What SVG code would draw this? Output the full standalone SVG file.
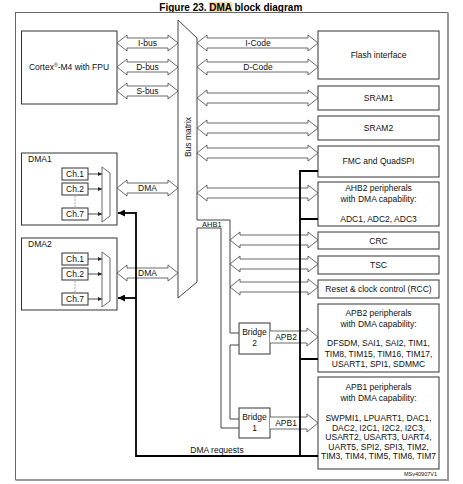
<svg xmlns="http://www.w3.org/2000/svg" width="463" height="484" viewBox="0 0 463 484">
<style>
.box{fill:#fff;stroke:#333;stroke-width:1}
.arr{fill:#fff;stroke:#444;stroke-width:0.8}
.t{font-family:"Liberation Sans",Arial,sans-serif;font-size:8.5px;fill:#111}
.c{text-anchor:middle}
.req{stroke:#000;stroke-width:1.8;fill:none}
.bus{stroke:#444;stroke-width:1;fill:none}
.thin{stroke:#222;stroke-width:0.8;fill:none}
</style>
<defs>
<marker id="big" markerWidth="7" markerHeight="7" refX="7" refY="3.5" orient="auto" markerUnits="userSpaceOnUse"><path d="M0,0 L7,3.5 L0,7 Z" fill="#000"/></marker>
<marker id="sm" markerWidth="4" markerHeight="4" refX="4" refY="2" orient="auto" markerUnits="userSpaceOnUse"><path d="M0,0 L4,2 L0,4 Z" fill="#222"/></marker>
</defs>
<rect width="463" height="484" fill="#fff"/>
<g id="title">
<rect x="209" y="2" width="23.5" height="10.5" fill="#fcd9a6"/>
<text x="159.3" y="10.5" style="font-family:'Liberation Sans',Arial,sans-serif;font-size:10px;font-weight:bold;fill:#000">Figure 23. DMA block diagram</text>
</g>
<g id="frame">
<rect x="15.5" y="12.5" width="432" height="467" fill="none" stroke="#666" stroke-width="1"/>
<path d="M448,12.5 L448,480 L15.5,480" fill="none" stroke="#999" stroke-width="2"/>
</g>
<g id="cortex"><rect class="box" x="21.5" y="31" width="95.5" height="73"/>
<text class="t c" x="69" y="70">Cortex<tspan font-size="5" dy="-3">®</tspan><tspan dy="3">-M4 with FPU</tspan></text></g>
<g id="busmatrix">
<path d="M197,220 L197,38 L178,20 L178,298 L197,282 L197,228" fill="#fff" stroke="#444" stroke-width="1"/>
<text class="t c" transform="translate(191,137) rotate(-90)">Bus matrix</text>
</g>
<g id="flash"><rect class="box" x="318" y="31" width="121" height="48"/><text class="t c" x="378.5" y="58">Flash interface</text></g>
<g id="sram1"><rect class="box" x="318" y="86" width="121" height="24"/><text class="t c" x="378.5" y="101">SRAM1</text></g>
<g id="sram2"><rect class="box" x="318" y="116" width="121" height="24"/><text class="t c" x="378.5" y="131">SRAM2</text></g>
<g id="fmc"><rect class="box" x="318" y="146" width="121" height="31"/><text class="t c" x="378.5" y="164">FMC and QuadSPI</text></g>
<g id="ahb2"><rect class="box" x="318" y="182" width="121" height="44"/>
<text class="t c" x="378.5" y="191">AHB2 peripherals</text>
<text class="t c" x="378.5" y="202">with DMA capability:</text>
<text class="t c" x="378.5" y="222">ADC1, ADC2, ADC3</text></g>
<g id="crc"><rect class="box" x="318" y="232" width="121" height="17"/><text class="t c" x="378.5" y="243.5">CRC</text></g>
<g id="tsc"><rect class="box" x="318" y="256" width="121" height="18"/><text class="t c" x="378.5" y="268">TSC</text></g>
<g id="rcc"><rect class="box" x="318" y="280" width="121" height="18"/><text class="t c" x="378.5" y="292">Reset &amp; clock control (RCC)</text></g>
<g id="apb2p"><rect class="box" x="318" y="304" width="121" height="68"/>
<text class="t c" x="378.5" y="316">APB2 peripherals</text>
<text class="t c" x="378.5" y="326.5">with DMA capability:</text>
<text class="t c" x="378.5" y="346">DFSDM, SAI1, SAI2, TIM1,</text>
<text class="t c" x="378.5" y="356.5">TIM8, TIM15, TIM16, TIM17,</text>
<text class="t c" x="378.5" y="367">USART1, SPI1, SDMMC</text></g>
<g id="apb1p"><rect class="box" x="318" y="377" width="121" height="92"/>
<text class="t c" x="378.5" y="390">APB1 peripherals</text>
<text class="t c" x="378.5" y="401">with DMA capability:</text>
<text class="t c" x="378.5" y="421">SWPMI1, LPUART1, DAC1,</text>
<text class="t c" x="378.5" y="430.5">DAC2, I2C1, I2C2, I2C3,</text>
<text class="t c" x="378.5" y="440">USART2, USART3, UART4,</text>
<text class="t c" x="378.5" y="449.5">UART5, SPI2, SPI3, TIM2,</text>
<text class="t c" x="378.5" y="459">TIM3, TIM4, TIM5, TIM6, TIM7</text></g>
<g id="dma1"><rect class="box" x="21.5" y="153" width="95.5" height="72"/>
<text class="t" x="28" y="162">DMA1</text>
<rect class="box" x="62" y="168" width="26" height="12"/><text class="t c" x="75" y="177">Ch.1</text>
<rect class="box" x="62" y="183" width="26" height="12"/><text class="t c" x="75" y="192">Ch.2</text>
<rect class="box" x="62" y="208" width="26" height="12"/><text class="t c" x="75" y="217">Ch.7</text>
<line x1="75" y1="196.5" x2="75" y2="207" stroke="#333" stroke-width="0.8" stroke-dasharray="1,2"/>
<line class="thin" x1="88" y1="174" x2="102" y2="174" marker-end="url(#sm)"/>
<line class="thin" x1="88" y1="189" x2="102" y2="189" marker-end="url(#sm)"/>
<line class="thin" x1="88" y1="214" x2="102" y2="214" marker-end="url(#sm)"/>
<path d="M102,167 L110,173 L110,216 L102,222 Z" fill="#fff" stroke="#444" stroke-width="0.8"/></g>
<g id="dma2"><rect class="box" x="21.5" y="238" width="95.5" height="72"/>
<text class="t" x="28" y="247">DMA2</text>
<rect class="box" x="62" y="253" width="26" height="12"/><text class="t c" x="75" y="262">Ch.1</text>
<rect class="box" x="62" y="268" width="26" height="12"/><text class="t c" x="75" y="277">Ch.2</text>
<rect class="box" x="62" y="293" width="26" height="12"/><text class="t c" x="75" y="302">Ch.7</text>
<line x1="75" y1="281.5" x2="75" y2="292" stroke="#333" stroke-width="0.8" stroke-dasharray="1,2"/>
<line class="thin" x1="88" y1="259" x2="102" y2="259" marker-end="url(#sm)"/>
<line class="thin" x1="88" y1="274" x2="102" y2="274" marker-end="url(#sm)"/>
<line class="thin" x1="88" y1="299" x2="102" y2="299" marker-end="url(#sm)"/>
<path d="M102,252 L110,258 L110,301 L102,307 Z" fill="#fff" stroke="#444" stroke-width="0.8"/></g>
<g id="bridge2"><rect class="box" x="239" y="323" width="31" height="31"/><text class="t c" x="254.5" y="335">Bridge</text><text class="t c" x="254.5" y="346">2</text></g>
<g id="bridge1"><rect class="box" x="239" y="408" width="31" height="30"/><text class="t c" x="254.5" y="420">Bridge</text><text class="t c" x="254.5" y="431">1</text></g>
<g id="connectors">
<path class="arr" d="M117,43 L127,35 L127,38 L168,38 L168,35 L178,43 L168,51 L168,48 L127,48 L127,51 Z"/>
<path class="arr" d="M117,67 L127,59 L127,62 L168,62 L168,59 L178,67 L168,75 L168,72 L127,72 L127,75 Z"/>
<path class="arr" d="M117,91 L127,83 L127,86 L168,86 L168,83 L178,91 L168,99 L168,96 L127,96 L127,99 Z"/>
<path class="arr" d="M117,188 L127,180 L127,183 L168,183 L168,180 L178,188 L168,196 L168,193 L127,193 L127,196 Z"/>
<path class="arr" d="M117,273 L127,265 L127,268 L168,268 L168,265 L178,273 L168,281 L168,278 L127,278 L127,281 Z"/>
<path class="arr" d="M197,43 L207,35 L207,38 L308,38 L308,35 L318,43 L308,51 L308,48 L207,48 L207,51 Z"/>
<path class="arr" d="M197,67 L207,59 L207,62 L308,62 L308,59 L318,67 L308,75 L308,72 L207,72 L207,75 Z"/>
<path class="arr" d="M197,98 L207,90 L207,93 L308,93 L308,90 L318,98 L308,106 L308,103 L207,103 L207,106 Z"/>
<path class="arr" d="M197,128 L207,120 L207,123 L308,123 L308,120 L318,128 L308,136 L308,133 L207,133 L207,136 Z"/>
<path class="arr" d="M197,153 L207,145 L207,148 L308,148 L308,145 L318,153 L308,161 L308,158 L207,158 L207,161 Z"/>
<path class="arr" d="M197,193 L207,185 L207,188 L308,188 L308,185 L318,193 L308,201 L308,198 L207,198 L207,201 Z"/>
<path class="arr" d="M230,240 L240,232 L240,235 L308,235 L308,232 L318,240 L308,248 L308,245 L240,245 L240,248 Z"/>
<path class="arr" d="M230,264 L240,256 L240,259 L308,259 L308,256 L318,264 L308,272 L308,269 L240,269 L240,272 Z"/>
<path class="arr" d="M230,287 L240,279 L240,282 L308,282 L308,279 L318,287 L308,295 L308,292 L240,292 L240,295 Z"/>
<path class="arr" d="M270,331 L307,331 L307,328 L318,337 L307,346 L307,343 L270,343"/>
<path class="arr" d="M270,417 L307,417 L307,414 L318,423 L307,432 L307,429 L270,429"/>
<path class="bus" d="M197,220 L230,220 L230,333 L239,333"/>
<path class="bus" d="M197,228 L221,228 L221,428 L239,428"/>
<path class="bus" d="M239,345 L230,345 L230,419 L239,419"/>
<path class="req" d="M318,171 L300,171 L300,456"/>
<path class="req" d="M300,219 L318,219 M300,359 L318,359"/>
<path class="req" d="M318,456 L136,456 L136,212"/>
<line class="req" x1="136" y1="213" x2="118" y2="213" marker-end="url(#big)"/>
<line class="req" x1="136" y1="298" x2="118" y2="298" marker-end="url(#big)"/>
<text class="t c" x="147.5" y="46">I-bus</text>
<text class="t c" x="147.5" y="70">D-bus</text>
<text class="t c" x="147.5" y="94">S-bus</text>
<text class="t c" x="147.5" y="191">DMA</text>
<text class="t c" x="147.5" y="276">DMA</text>
<text class="t c" x="258" y="46">I-Code</text>
<text class="t c" x="258" y="70">D-Code</text>
<text class="t" x="202" y="227" style="font-size:7.5px">AHB1</text>
<text class="t c" x="286" y="340">APB2</text>
<text class="t c" x="286" y="426">APB1</text>
<text class="t c" x="217" y="453">DMA requests</text>
</g>
<text class="t" x="437" y="475.5" text-anchor="end" style="font-size:5.5px">MSv40907V1</text>
</svg>
